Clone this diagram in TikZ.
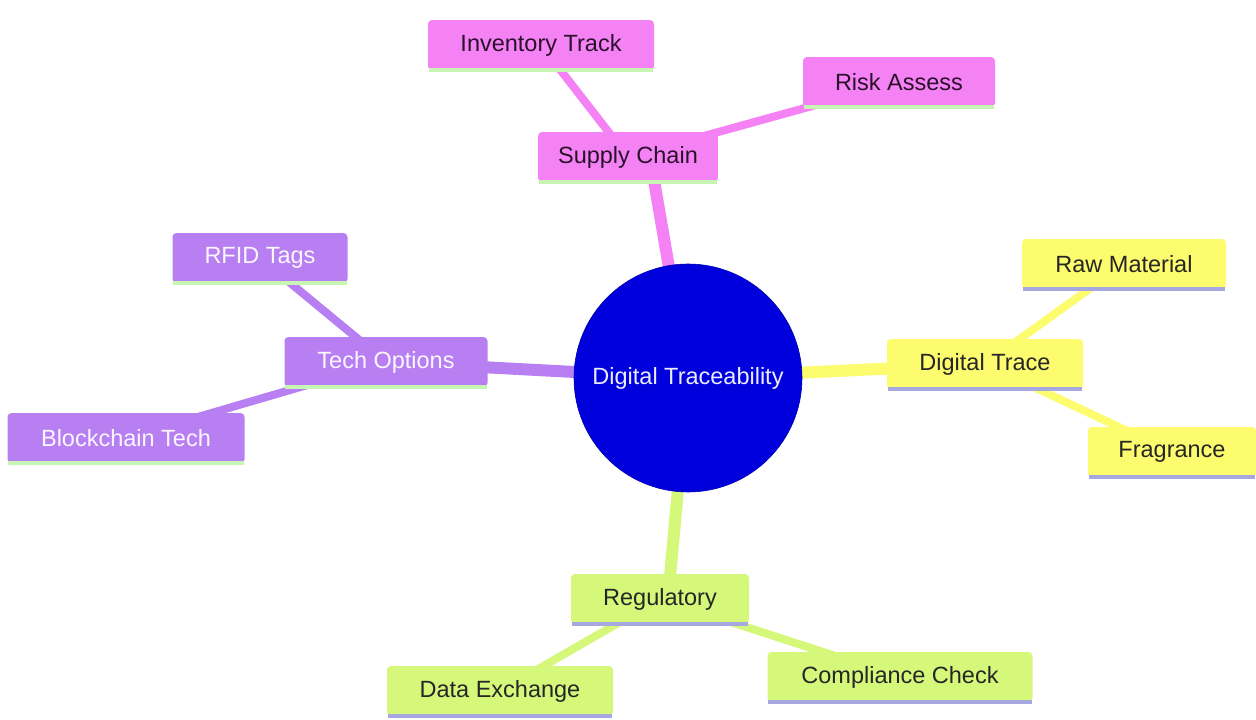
\documentclass[tikz,border=0pt]{standalone}
\usepackage{fontspec}
\setmainfont{Liberation Sans}
\definecolor{pinkc}{HTML}{F582F5}
\definecolor{purc}{HTML}{B87FF2}
\definecolor{yelc}{HTML}{FCFC6E}
\definecolor{grnc}{HTML}{D5F87A}
\definecolor{bluec}{HTML}{0000DC}
\definecolor{gline}{HTML}{C8F5B4}
\definecolor{lline}{HTML}{A8A8E0}
\definecolor{darktxt}{HTML}{2A102A}
\tikzset{
  box/.style={rectangle, rounded corners=4pt, minimum height=50pt, inner xsep=20pt, font=\fontsize{23.5}{28}\selectfont},
  pinkbox/.style={box, fill=pinkc, text=darktxt},
  purbox/.style={box, fill=purc, text=white!94!purc},
  yelbox/.style={box, fill=yelc, text=black!85},
  grnbox/.style={box, fill=grnc, text=black!85},
  thick edge/.style={line width=12pt},
  thin edge/.style={line width=8pt},
  gbot/.style={line width=3.5pt, gline},
  lbot/.style={line width=3.5pt, lline},
}
\begin{document}
\begin{tikzpicture}[x=1pt,y=-1pt]
\useasboundingbox (0,0) rectangle (1256,720);
\fill[white] (0,0) rectangle (1256,720);
% coordinates
\coordinate (cRoot) at (688,378);
\coordinate (cSC) at (628,157);
\coordinate (cIT) at (541,45);
\coordinate (cRA) at (899,82);
\coordinate (cTO) at (386,362);
\coordinate (cRF) at (260,258);
\coordinate (cBT) at (126,438);
\coordinate (cDT) at (985,364);
\coordinate (cRM) at (1124,264);
\coordinate (cFR) at (1172,452);
\coordinate (cRG) at (660,599);
\coordinate (cDE) at (500,691);
\coordinate (cCC) at (900,677);
% edges
\draw[thick edge, pinkc] (cRoot) -- ([xshift=22pt]cSC);
\draw[thin edge, pinkc] (cSC) -- (cIT);
\draw[thin edge, pinkc] (cSC) -- (cRA);
\draw[thick edge, purc] (cRoot) -- (cTO);
\draw[thin edge, purc] (cTO) -- (cRF);
\draw[thin edge, purc] (cTO) -- (cBT);
\draw[thick edge, yelc] (cRoot) -- (cDT);
\draw[thin edge, yelc] (cDT) -- (cRM);
\draw[thin edge, yelc] (cDT) -- (cFR);
\draw[thick edge, grnc] (cRoot) -- ([xshift=8pt]cRG);
\draw[thin edge, grnc] (cRG) -- (cDE);
\draw[thin edge, grnc] (cRG) -- (cCC);
% nodes
\node[circle, fill=bluec, draw=bluec!80!black, line width=0.6pt, minimum size=228pt, text=white!92!blue, font=\fontsize{23.5}{28}\selectfont] (root) at (cRoot) {Digital Traceability};
\node[pinkbox, minimum width=176pt] (sc) at (cSC) {Supply Chain};
\node[pinkbox, minimum width=226pt] (it) at (cIT) {Inventory Track};
\node[pinkbox, minimum width=192pt] (ra) at (cRA) {Risk Assess};
\node[purbox, minimum width=203pt] (to) at (cTO) {Tech Options};
\node[purbox, minimum width=175pt] (rf) at (cRF) {RFID Tags};
\node[purbox, minimum width=237pt] (bt) at (cBT) {Blockchain Tech};
\node[yelbox, minimum width=196pt] (dt) at (cDT) {Digital Trace};
\node[yelbox, minimum width=204pt] (rm) at (cRM) {Raw Material};
\node[yelbox, minimum width=168pt] (fr) at (cFR) {Fragrance};
\node[grnbox, minimum width=178pt] (rg) at (cRG) {Regulatory};
\node[grnbox, minimum width=226pt] (de) at (cDE) {Data Exchange};
\node[grnbox, minimum width=265pt] (cc) at (cCC) {Compliance Check};
% bottom lines
\foreach \n in {sc,it,ra,to,rf,bt}{\draw[gbot] ([xshift=1pt]\n.south west) -- ([xshift=-1pt]\n.south east);}
\foreach \n in {dt,rm,fr,rg,de,cc}{\draw[lbot] ([xshift=1pt]\n.south west) -- ([xshift=-1pt]\n.south east);}
\end{tikzpicture}
\end{document}
